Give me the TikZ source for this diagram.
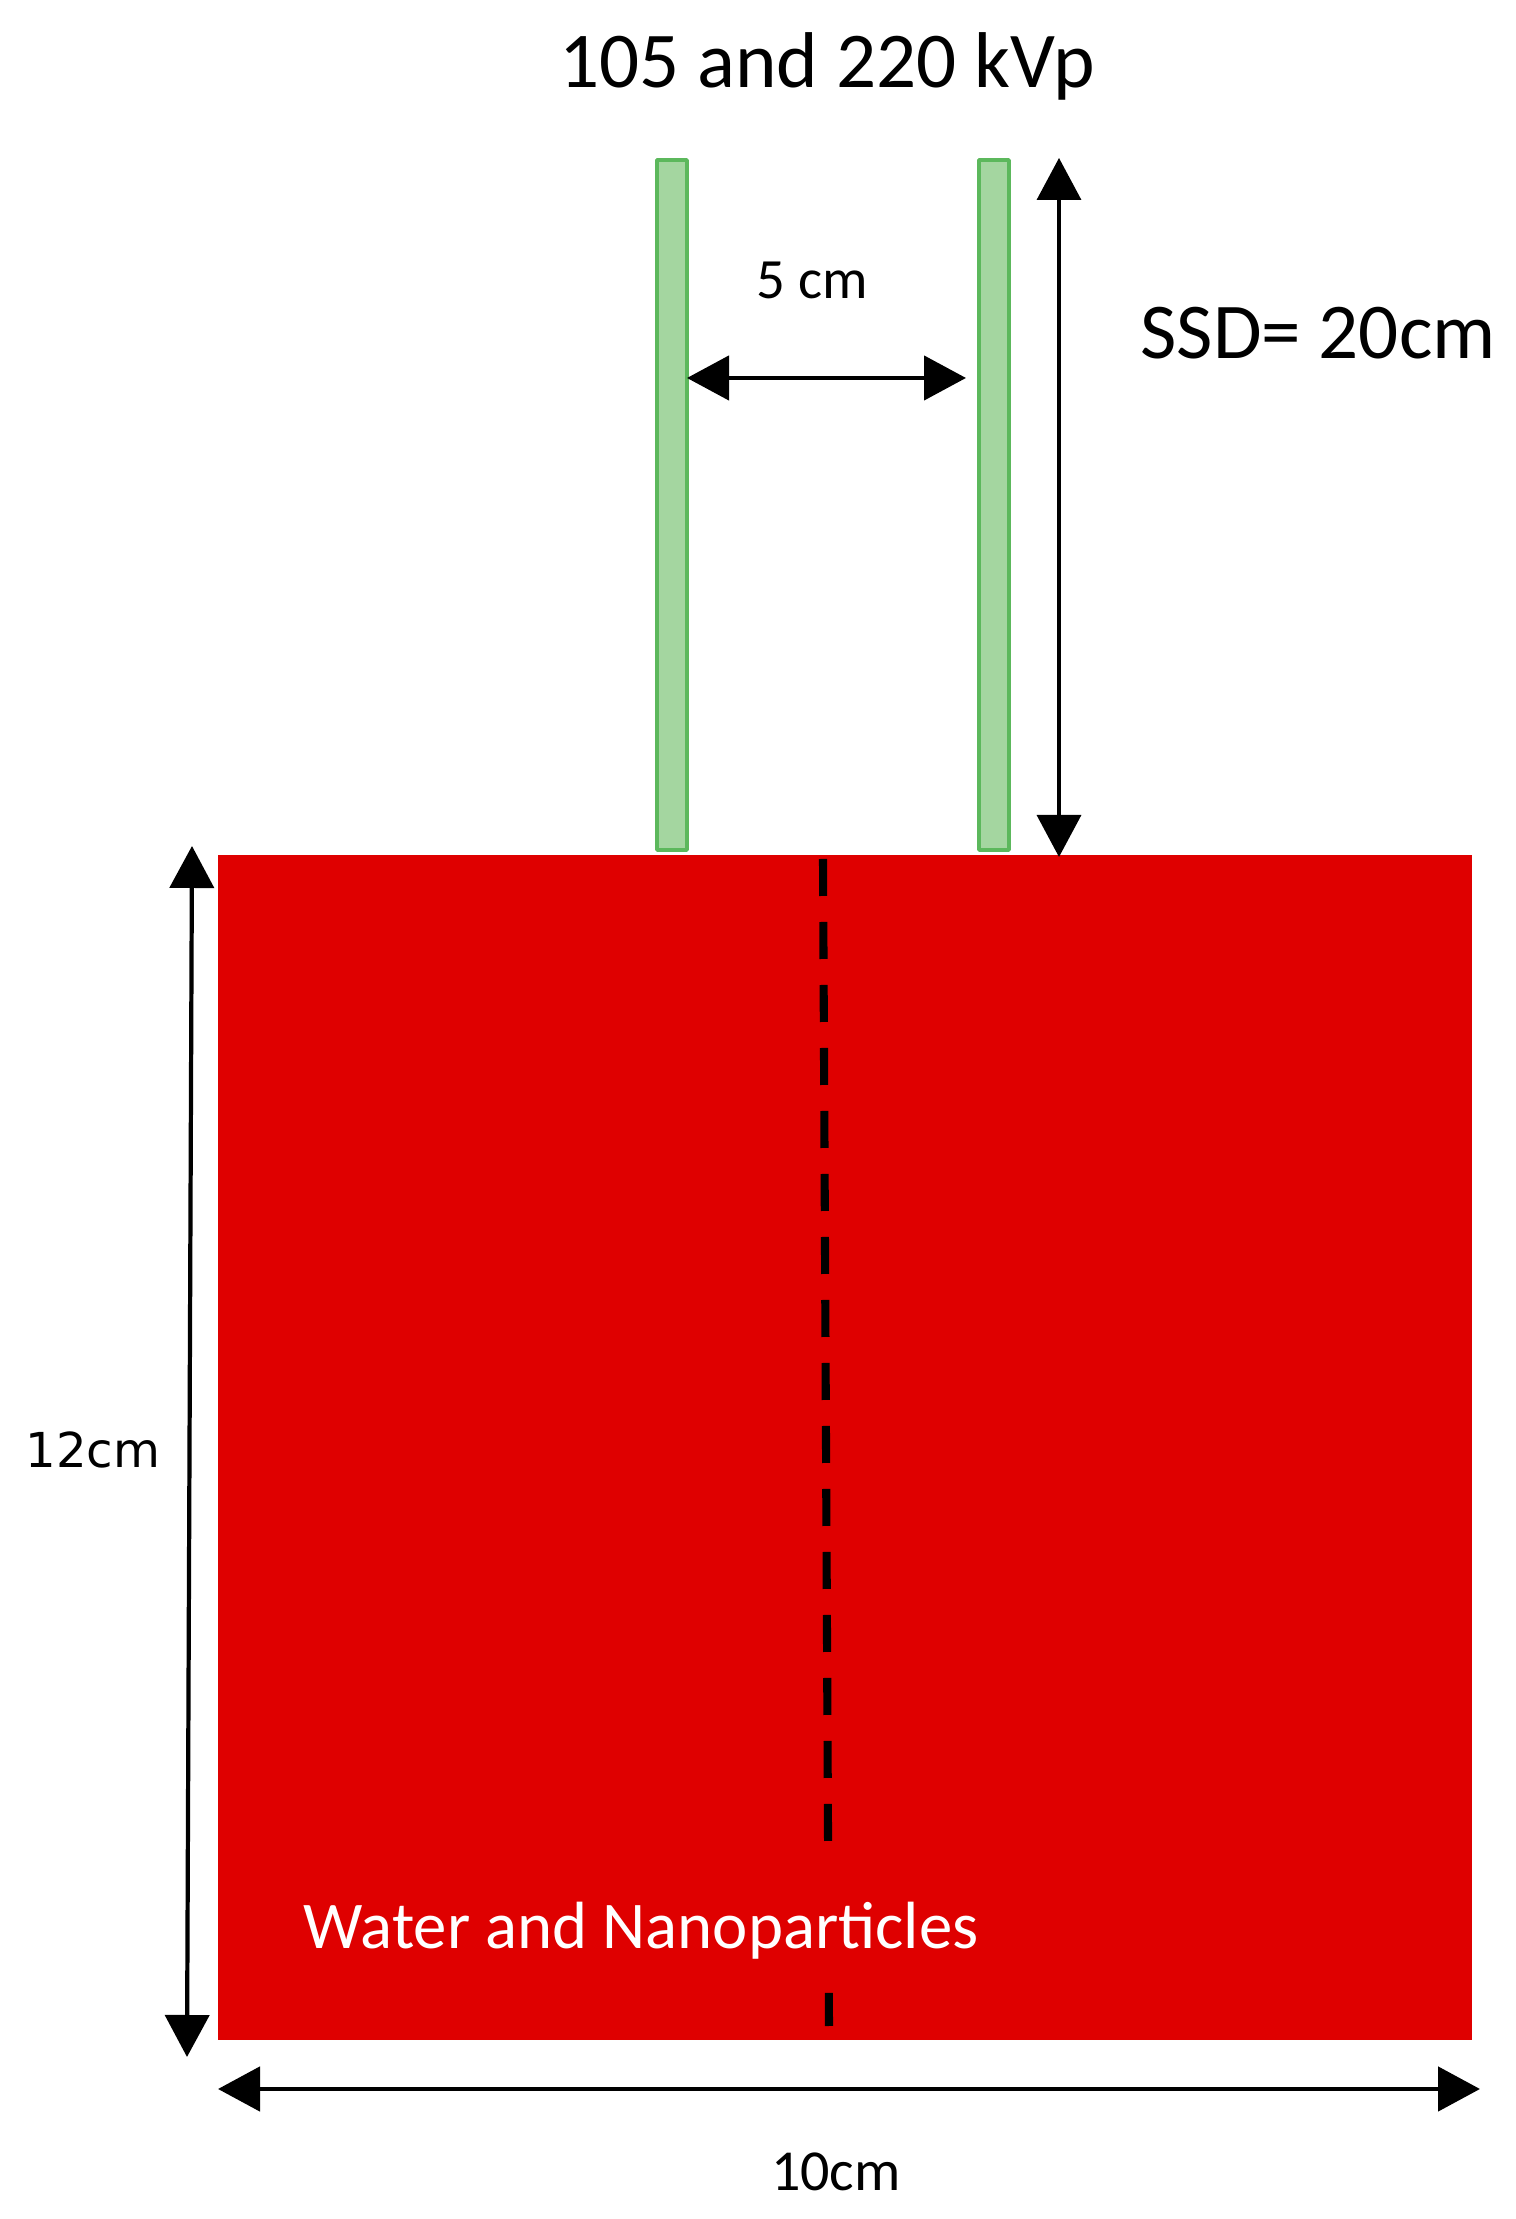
\documentclass[tikz,border=0pt]{standalone}
\usepackage{fontspec}
\setmainfont{Carlito}
\newfontfamily\dejavu{DejaVu Sans}
\usetikzlibrary{arrows.meta}
\definecolor{phantomred}{RGB}{223,0,0}
\definecolor{barfill}{RGB}{164,214,160}
\definecolor{baredge}{RGB}{92,184,92}
\begin{document}
\begin{tikzpicture}[line join=round,
	dimarrow/.style={{Triangle[length=4.2mm,width=4.4mm]}-{Triangle[length=4.2mm,width=4.4mm]}},
	bar/.style={fill=barfill, draw=baredge, line width=1pt}]
	\useasboundingbox (0,0) rectangle (15.16,22.19);
	% phantom and central axis
	\fill[phantomred] (2.18,1.79) rectangle (14.72,13.64);
	\coordinate (axtop) at (8.23,13.60); \coordinate (axbot) at (8.29,1.93);
	\draw[line width=2.3pt, dash pattern=on 3.7mm off 2.6mm] (axtop)--(axbot);
	\node[anchor=base west, text=white, fill=phantomred, inner sep=0.08cm, text height=0.9cm, text depth=0.35cm,
		font=\fontsize{19}{23}\selectfont] (water) at (2.95,2.70) {Water and Nanoparticles};
	%=== collimator
	\draw[bar] (6.57,13.69) rectangle (6.87,20.59);
	\draw[bar] (9.79,13.69) rectangle (10.09,20.59);
	\node[anchor=base, font=\fontsize{22.5}{27}\selectfont] (beam) at (8.27,21.31) {105 and 220 kVp};
	\coordinate (gapL) at (6.87,18.41); \coordinate (gapR) at (9.66,18.41);
	\draw[dimarrow, line width=1.3pt] (gapL)--(gapR);
	\node[font=\fontsize{16.2}{19}\selectfont] (gap) at (8.12,19.39) {5 cm};
	%=== SSD
	\coordinate (ssdtop) at (10.59,20.61); \coordinate (ssdbot) at (10.59,13.62);
	\draw[dimarrow, line width=1pt] (ssdtop)--(ssdbot);
	\node[anchor=base west, font=\fontsize{22.5}{27}\selectfont] (ssd) at (11.28,18.60) {SSD= 20cm};
	%=== phantom size
	\coordinate (htop) at (1.92,13.73); \coordinate (hbot) at (1.87,1.62);
	\draw[dimarrow, line width=1.2pt] (htop)--(hbot);
	\node[font=\dejavu\fontsize{13.7}{16}\selectfont] (height) at (0.93,7.69) {12cm};
	\coordinate (wL) at (2.18,1.30); \coordinate (wR) at (14.80,1.30);
	\draw[dimarrow, line width=1.4pt] (wL)--(wR);
	\node[font=\fontsize{16.5}{19}\selectfont] (width) at (8.36,0.47) {10cm};
\end{tikzpicture}
\end{document}
